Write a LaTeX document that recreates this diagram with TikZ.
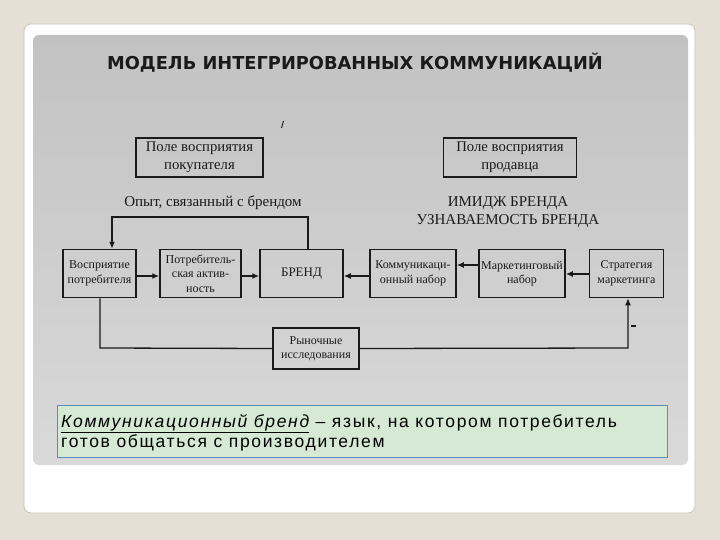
\documentclass[tikz,border=0pt]{standalone}
\usepackage{fontspec}
\setmainfont{Liberation Serif}
\newfontfamily\titlefont{DejaVu Sans}
\newfontfamily\notefont[LetterSpace=9.5]{Liberation Sans}
\usetikzlibrary{arrows.meta}
\definecolor{bgc}{HTML}{E5DFD5}
\definecolor{cardborder}{HTML}{C9C3B9}
\definecolor{paneltop}{HTML}{C2C2C2}
\definecolor{panelbot}{HTML}{D9D9D9}
\definecolor{ink}{HTML}{1A1A1A}
\definecolor{notefill}{HTML}{D5E9D5}
\definecolor{noteborder}{HTML}{5B8FB3}
\tikzset{
  bigbox/.style={draw=ink, line width=1.5pt, align=center, inner sep=1pt,
    font=\fontsize{14.7}{17.5}\selectfont, text=ink},
  smallbox/.style={draw=ink, line width=1.5pt, align=center, inner sep=1pt,
    font=\fontsize{12}{14.5}\selectfont, text=ink, minimum height=48pt},
  conn/.style={draw=ink, line width=1.3pt},
  arr/.style={conn, -{Latex[length=7pt,width=6pt]}},
  lbl/.style={align=center, text=ink, inner sep=0pt}
}
\begin{document}
\begin{tikzpicture}[x=1pt,y=-1pt]
\useasboundingbox (0,0) rectangle (720,540);
\fill[bgc] (0,0) rectangle (720,540);
% card
\fill[white, draw=cardborder, line width=0.8pt, rounded corners=7pt] (24,24) rectangle (695,513);
% panel
\shade[top color=paneltop, bottom color=panelbot, rounded corners=6pt] (33,35) rectangle (688,465);
% title
\node[lbl, font=\titlefont\bfseries\fontsize{17.8}{20}\selectfont] (title) at (355,63) {МОДЕЛЬ ИНТЕГРИРОВАННЫХ КОММУНИКАЦИЙ};
% scan tick
\coordinate (tickA) at (283.5,121);
\coordinate (tickB) at (281.5,128);
\draw[ink, line width=0.9pt] (tickA) -- (tickB);
% top boxes
\node[bigbox, minimum width=127pt, minimum height=39pt] (buyer) at (199.5,157.5) {Поле восприятия\\покупателя};
\node[bigbox, minimum width=133pt, minimum height=39pt] (seller) at (510,157.5) {Поле восприятия\\продавца};
\node[lbl, font=\fontsize{15}{17}\selectfont] (exp) at (213,203) {Опыт, связанный с брендом};
\node[lbl, font=\fontsize{15}{18.5}\selectfont] (image) at (508,212) {ИМИДЖ БРЕНДА\\УЗНАВАЕМОСТЬ БРЕНДА};
% row
\node[smallbox, minimum width=73pt] (vp) at (99.5,273.5) {Восприятие\\потребителя};
\node[smallbox, minimum width=81pt] (pa) at (200.5,273.5) {Потребитель-\\ская актив-\\ность};
\node[smallbox, minimum width=83pt, font=\fontsize{13}{14}\selectfont] (br) at (301.5,273.5) {БРЕНД};
\node[smallbox, minimum width=86pt] (kn) at (413,273.5) {Коммуникаци-\\онный набор};
\node[smallbox, minimum width=86pt] (mn) at (522,273.5) {Маркетинговый\\набор};
\node[smallbox, minimum width=74pt] (sm) at (626.5,273.5) {Стратегия\\маркетинга};
\node[bigbox, font=\fontsize{12}{14.5}\selectfont, minimum width=86pt, minimum height=41pt] (mr) at (316,348.5) {Рыночные\\исследования};
% row arrows
\draw[arr] (vp.east |- 0,276) -- (pa.west |- 0,276);
\draw[arr] (pa.east |- 0,276) -- (br.west |- 0,276);
\draw[arr] (kn.west |- 0,276) -- (br.east |- 0,276);
\draw[arr] (mn.west |- 0,265) -- (kn.east |- 0,265);
\draw[arr] (sm.west |- 0,274) -- (mn.east |- 0,274);
% top loop
\coordinate (tl1) at (308,217);
\coordinate (tl2) at (112,217);
\draw[arr] (br.north -| tl1) -- (tl1) -- (tl2) -- (vp.north -| tl2);
% bottom loop
\coordinate (bl1) at (100,348);
\coordinate (bl2) at (628,348);
\draw[conn] (vp.south -| bl1) -- (bl1) -- (mr.west);
\draw[arr] (mr.east) -- (bl2) -- (sm.south -| bl2);
% scan dash
\coordinate (dashA) at (631,326);
\coordinate (dashB) at (636,326);
\draw[ink, line width=1.2pt] (dashA) -- (dashB);
% note box
\fill[notefill, draw=noteborder, line width=0.8pt] (57,405) rectangle (667,457);
\node[lbl, anchor=base west, align=left, font=\notefont\fontsize{17.5}{20}\selectfont, text=black] (note) at (61,447)
  {\underline{\itshape Коммуникационный бренд} – язык, на котором потребитель\\готов общаться с производителем};
\end{tikzpicture}
\end{document}
